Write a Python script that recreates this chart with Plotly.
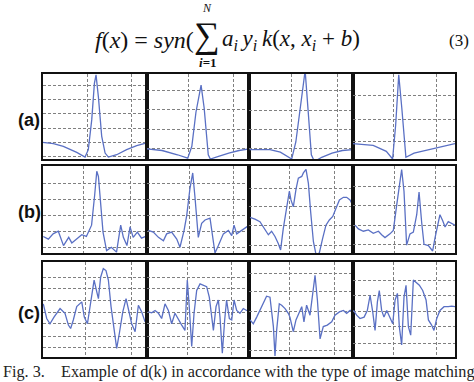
import plotly.graph_objects as go

W, H = 474, 382

# ---- data: d(k) samples per panel (k index, normalised amplitude) ----
A1_K = [0, 7.2, 13.9, 22.9, 28.5, 30.7, 33, 34.8, 35.9, 37.5, 39.7, 42, 44.2, 49.8, 56.5, 63.3, 70]
A1_D = [19.5, 18, 14.8, 7.8, 2.3, 11, 46, 89, 99, 73, 27, 7, 2.3, 5, 11, 15.6, 19]
A2_K = [0, 10.5, 21, 28, 30.8, 33.6, 37.1, 39.2, 42, 43.4, 49, 56, 63, 70]
A2_D = [12, 10, 5, 1, 15, 55, 87, 60, 5, 0, 3, 7, 10, 12]
A3_K = [0, 14, 21, 26.6, 28.7, 31.5, 35, 37.8, 39.9, 42, 44.1, 49, 56, 63, 70]
A3_D = [11, 11, 8, 2, 0, 20, 70, 104, 55, 5, -3, 2, 7, 10, 11]
A4_K = [0, 14, 23, 27.3, 29.4, 31.5, 33.6, 36.4, 42, 52.5, 61.6, 70]
A4_D = [18, 16, 9, 0, 40, 99, 60, 2, 7, 11, 15, 18]

B1_K = [0.4, 3.8, 7, 10.5, 14, 17.5, 19.6, 23.1, 26.3, 29.4, 32.9, 35, 36.4, 37.5, 39.2, 40.6,
        43, 46.2, 49.7, 52.5, 54.3, 56.7, 58.8, 60.9, 63.7, 66.5, 69.3]
B1_D = [19, 16, 22, 25, 8.5, 18, 11.6, 16, 21, 19, 32, 67, 94, 88, 55, 24,
        2.7, 6.6, 1, 32, 18, 8.5, 30, 18, 24, 17, 19]
B2_K = [1.1, 4.5, 8, 11.4, 13.6, 17, 20.5, 22.7, 25.5, 27.3, 29.5, 31.4, 33, 35.2, 37.5, 39.8,
        43.2, 45, 46.6, 48.9, 52.3, 55.7, 58, 59.6, 61.4, 64.8, 68.2, 70]
B2_D = [26, 24, 18, 14, 22, 24, 16, 6.6, 26, 43, 74, 92, 63, 18, 34, 38,
        40, 18, 0, 8.5, 22, 26, 20, 32, 22, 26, 30, 32]
B3_K = [0.5, 3.8, 7.2, 10.6, 12.9, 15.1, 17.4, 19.6, 21.2, 23, 25.3, 27.1, 28.2, 29.8, 31.6, 33.2,
        35.5, 36.6, 38.4, 40, 41.5, 43.4, 45.2, 47.4, 49.7, 51.9, 54.2, 56.5, 58.7, 61, 63.7, 65.9, 68.2, 70]
B3_D = [41, 39, 36, 26.5, 21, 25, 19, 11, 3.5, 28, 55, 71, 61, 53, 73, 86,
        88, 92, 96, 80, 48, 13, -2, 0, 17, 32, 38, 42, 51.5, 61, 64, 64, 61, 55]
B4_K = [1.6, 3.9, 7.3, 10.7, 14.1, 17.6, 19.8, 22.1, 25.5, 27.8, 30.1, 31.9, 33.5, 35.1, 36.9, 39.2,
        41.5, 43.8, 45.4, 47.2, 48.8, 51.8, 54.7, 56.3, 57.9, 59.7, 61.6, 63.2, 65.4, 67.7, 70]
B4_D = [32, 27.7, 25, 26.5, 22.7, 25, 21, 17.7, 22, 26, 55, 78, 96, 71, 9, 22,
        24, 44, 70, 35, 10, 8.5, 2.3, 17, 32, 44, 37, 30, 36, 33.5, 32]

C1_K = [0.4, 2.7, 4.9, 7.6, 11.7, 15, 17.3, 18.8, 20.6, 22.9, 26.3, 28, 30.1, 31.9, 34.6, 36.4, 37.5,
        39, 40.8, 42.6, 44.2, 46, 48, 49.8, 51.6, 53.9, 56.1, 57.7, 59.9, 62.2, 64.4, 66.6, 68.9, 70]
C1_D = [56, 40.5, 35, 42, 51, 46, 33.6, 30, 39, 53, 58, 42, 35, 53, 81, 68.5, 61.5,
        84, 93, 91, 81, 53, 32, 9, 25, 47.5, 61.5, 51, 35, 26.6, 54.5, 47.5, 37, 39]
C2_K = [1.1, 3.4, 5.7, 8, 10.2, 12.5, 14.8, 17, 19.3, 21.6, 23.9, 26.1, 27.7, 28.9, 30.7, 32.3, 34.1,
        36.4, 38.6, 40.9, 42.7, 44.3, 45.5, 47.3, 48.9, 50, 51.6, 53.2, 54.5, 56.4, 58, 59.6, 61.4,
        63.6, 65.9, 68.2, 70]
C2_D = [47.5, 46.5, 49, 46, 40.5, 56, 49, 35, 46, 39, 33.6, 28, 81, 56, 11, 46, 70,
        77, 75.5, 74, 63, 39, 28, 53, 60, 42, 4, 39, 60, 40.5, 39, 60, 49,
        46, 51, 49, 48]
C3_K = [0.5, 2.7, 5, 7.2, 9.5, 11.7, 14, 15.1, 16.3, 17.4, 18.5, 20.3, 21.9, 24.2, 26.4, 27.5, 29.8,
        31.6, 33.9, 35.5, 37, 38.8, 41.1, 42.9, 44.5, 46.1, 47.9, 50.1, 52.8, 55.8, 58, 61, 63.7,
        65.9, 68.2, 70]
C3_D = [39, 35, 42, 49, 58, 64, 63, 49, 32, 1, 28, 56, 54.5, 51, 46, 42, 26.6,
        39, 47.5, 53, 37, 54.5, 44, 67, 86, 60, 19, 32, 33.6, 37, 44, 47.5, 49,
        46, 49, 49]
C4_K = [0.5, 2.7, 5, 7.8, 10, 11.9, 13.7, 15.3, 16.9, 18.2, 19.8, 21.4, 23.3, 25.5, 27.4, 29, 30.6,
        31.9, 33.5, 35.1, 36.5, 38.1, 39.7, 41.5, 43.3, 45.6, 47.9, 50.2, 51.8, 54, 55.6, 57.5,
        59.7, 62.5, 65.4, 67.7, 70]
C4_D = [49, 44, 40.5, 42, 49, 65, 47.5, 28, 58, 70, 49, 42, 49, 42, 35, 60, 67,
        32, 12.6, 63, 75.5, 32, 23, 81, 79, 75.5, 70, 60, 39, 33.6, 28, 40.5,
        49, 53, 53, 53.5, 53]

SERIES = [
    (A1_K, A1_D), (A2_K, A2_D), (A3_K, A3_D), (A4_K, A4_D),
    (B1_K, B1_D), (B2_K, B2_D), (B3_K, B3_D), (B4_K, B4_D),
    (C1_K, C1_D), (C2_K, C2_D), (C3_K, C3_D), (C4_K, C4_D),
]

# grid positions per panel
GRID_K = [[30, 60], [28.4, 59.5], [28.7, 59.9], [28, 57.4],
          [27.3, 59.2], [29, 59.5], [27.3, 57.4], [28.7, 56.7],
          [28.7, 59.9], [28, 58], [27.1, 57.4], [28.2, 57]]
GRID_D = [[86, 69.5, 53, 36, 20, 3], [80.5, 58, 35, 12], [80.5, 57, 35, 12], [74.6, 47, 20.7],
          [79.5, 61, 42.6, 25, 6.6], [79.5, 61, 42.6, 25, 6.6], [74.6, 53.5, 32, 9], [76.5, 54.6, 32, 10],
          [84, 72, 60, 47, 35, 22, 10], [84, 72, 60, 47, 35, 22, 10], [88, 68.5, 47.5, 26.6, 7],
          [81, 65, 47.5, 32, 14]]

ROW_LABELS = ["(a)", "(b)", "(c)"]

# layout in pixels
COLS = [(42.7, 146.7), (146.7, 249.3), (249.3, 352.7), (352.7, 455)]
ROWS = [(74, 159), (166, 253), (262, 357)]

fig = go.Figure()
layout = {}
for idx, (k, d) in enumerate(SERIES):
    r, c = divmod(idx, 4)
    n = idx + 1
    xa = "x" if n == 1 else f"x{n}"
    ya = "y" if n == 1 else f"y{n}"
    fig.add_trace(go.Scatter(x=k, y=d, mode="lines", xaxis=xa, yaxis=ya,
                             line=dict(color="#5a70c4", width=1.3), showlegend=False,
                             hoverinfo="skip"))
    x0, x1 = COLS[c]
    y0, y1 = ROWS[r]
    common = dict(showticklabels=False, ticks="", zeroline=False, showline=True, mirror=True,
                  linecolor="#111", linewidth=1.6, showgrid=True, gridcolor="#808080",
                  gridwidth=1, griddash="3px,2px", fixedrange=True)
    layout["xaxis" if n == 1 else f"xaxis{n}"] = dict(
        domain=[x0 / W, x1 / W], range=[0, 70], tickvals=GRID_K[idx],
        anchor=ya, **common)
    layout["yaxis" if n == 1 else f"yaxis{n}"] = dict(
        domain=[1 - y1 / H, 1 - y0 / H], range=[0, 100], tickvals=GRID_D[idx],
        anchor=xa, **common)

fig.update_layout(**layout)

ann = []
def px(x, y):
    return x / W, 1 - y / H

def add(x, y, text, size, xanchor="center", family="Liberation Serif", color="#111"):
    ax, ay = px(x, y)
    ann.append(dict(x=ax, y=ay, xref="paper", yref="paper", text=text, showarrow=False,
                    xanchor=xanchor, yanchor="middle",
                    font=dict(family=family, size=size, color=color)))

for i, lab in enumerate(ROW_LABELS):
    yc = (ROWS[i][0] + ROWS[i][1]) / 2 + 3
    add(29, yc, f"<b>{lab}</b>", 18, family="Liberation Sans")

add(196, 40, "<i>f</i>(<i>x</i>) = <i>syn</i>(", 24, xanchor="right")
add(207, 35, "∑", 36)
add(207, 8, "<i>N</i>", 12)
add(208, 62, "<b><i>i</i>=1</b>", 13)
add(220, 40,
    "<i>a<sub>i</sub>\u2009y<sub>i</sub>\u2009k</i>(<i>x</i>, <i>x<sub>i</sub></i> + <i>b</i>)",
    23, xanchor="left")
add(471, 40, "(3)", 17, xanchor="right")
add(1, 372, "Fig. 3.\u00a0\u00a0\u00a0\u00a0Example of d(k) in accordance with the type of image matching",
    16.2, xanchor="left", color="#222")

fig.update_layout(width=W, height=H, margin=dict(l=0, r=0, t=0, b=0),
                  paper_bgcolor="white", plot_bgcolor="white", annotations=ann)

fig.write_html("out.html", config={"displayModeBar": False},
               post_script="document.body.style.margin='0';document.body.style.padding='0';")
